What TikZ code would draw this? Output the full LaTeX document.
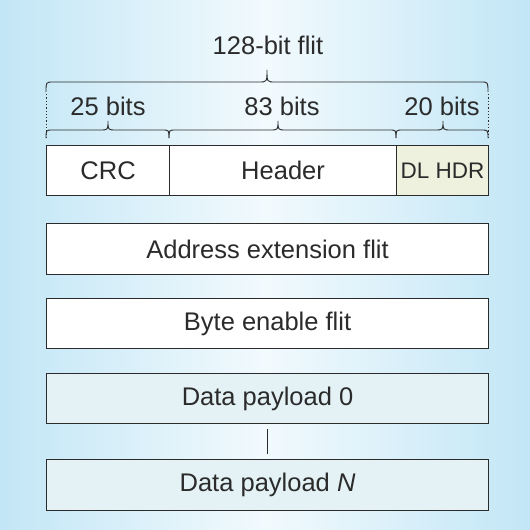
\documentclass[tikz,border=0pt]{standalone}
\usepackage{fontspec}
\setmainfont{Liberation Sans}
\definecolor{bgblue}{HTML}{C2E6F6}
\definecolor{bgwhite}{HTML}{F2FAFD}
\definecolor{ink}{HTML}{2B2B2B}
\definecolor{dlfill}{HTML}{EDF1DE}
\definecolor{datafill}{HTML}{E4F2F5}
\newcommand\flitbrace[6]{% x1 x2 xm yend yflat ytip
  \draw[bracestyle] (#1,#4) .. controls (#1,#5) .. (#1+7,#5) -- (#3-8,#5)
    .. controls (#3,#5) .. (#3,#6) .. controls (#3,#5) .. (#3+8,#5)
    -- (#2-7,#5) .. controls (#2,#5) .. (#2,#4);}
\begin{document}
\begin{tikzpicture}[x=1pt,y=-1pt,
  box/.style={draw=ink,line width=1.1pt,minimum height=50pt,inner sep=0pt,
    text=ink,font=\fontsize{25.5}{25.5}\selectfont},
  bracestyle/.style={draw=ink,line width=0.9pt},
  lbl/.style={text=ink,font=\fontsize{25.5}{25.5}\selectfont,inner sep=0pt},
  dotv/.style={draw=ink,line width=0.9pt,dash pattern=on 1.3pt off 2pt}]
\useasboundingbox (0,0) rectangle (530,530);
\shade[left color=bgblue,right color=bgblue,middle color=bgwhite] (0,0) rectangle (530,530);
% row 1
\node[box,fill=white,minimum width=123pt,anchor=north west] (crc) at (46,145) {CRC};
\node[box,fill=white,minimum width=227pt,anchor=north west] (hdr) at (169,145) {Header};
\node[box,fill=dlfill,minimum width=92pt,anchor=north west,font=\fontsize{22.5}{22.5}\selectfont] (dl) at (396,145) {DL HDR};
% other flits
\node[box,fill=white,minimum width=442pt,minimum height=51pt,anchor=north west] (addr) at (46,223) {Address extension flit};
\node[box,fill=white,minimum width=442pt,anchor=north west] (be) at (46,298) {Byte enable flit};
\node[box,fill=datafill,minimum width=442pt,anchor=north west] (d0) at (46,373) {Data payload 0};
\node[box,fill=datafill,minimum width=442pt,minimum height=51pt,anchor=north west] (dn) at (46,459) {Data payload \textit{N}};
\draw[draw=ink,line width=1.1pt] ([yshift=-5pt]d0.south) -- ([yshift=5pt]dn.north);
% braces
\flitbrace{46}{488}{267}{92}{82}{70}
\flitbrace{46}{169}{108}{138}{130}{121}
\flitbrace{169}{396}{278}{138}{130}{121}
\flitbrace{396}{488}{443}{138}{130}{121}
\draw[dotv] (46,94) -- (46,140);
\draw[dotv] (488,94) -- (488,140);
% labels
\node[lbl] (lall) at (268,45) {128-bit flit};
\node[lbl] (l25) at (108,106) {25 bits};
\node[lbl] (l83) at (282,106) {83 bits};
\node[lbl] (l20) at (442,106) {20 bits};
\end{tikzpicture}
\end{document}
